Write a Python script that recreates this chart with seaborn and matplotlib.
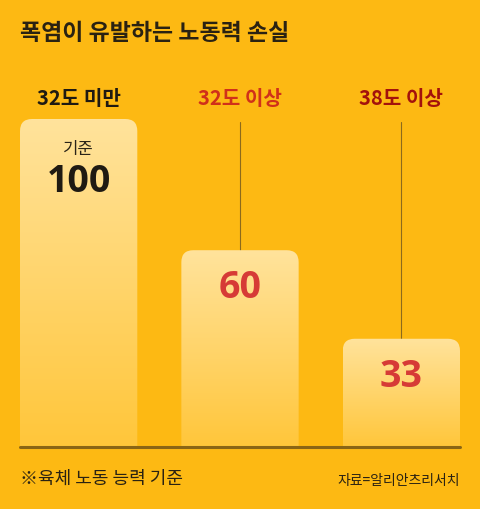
import numpy as np
import pandas as pd
import seaborn as sns
import matplotlib.pyplot as plt
from matplotlib.patches import FancyBboxPatch
from matplotlib.colors import LinearSegmentedColormap

# data
categories = ['32도 미만', '32도 이상', '38도 이상']
values = [100, 60, 33]
label_colors = ['#1f1a12', '#d0301a', '#a3120c']

df = pd.DataFrame({'temp': categories, 'labor': values})

sns.set_theme(style='white')
plt.rcParams['font.family'] = ['Noto Sans CJK KR', 'DejaVu Sans']

BG = '#fdb913'
W, H = 480, 510
fig = plt.figure(figsize=(W / 100, H / 100), dpi=100, facecolor=BG)

# axes placed so that baseline is at y=448px and bars span x 20..460px
bar_w = 0.727
left_px, right_px, base_px, top_px = 20, 460, 448, 120
ax = fig.add_axes([left_px / W, (H - base_px) / H,
                   (right_px - left_px) / W, (base_px - top_px) / H])
ax.set_facecolor(BG)

sns.barplot(data=df, x='temp', y='labor', width=bar_w, ax=ax, color='#ffd46a')
ax.set_xlim(-bar_w / 2, len(categories) - 1 + bar_w / 2)
ax.set_ylim(0, 100)
ax.axis('off')

# aspect of data units in pixels, for round corners
px_x = (right_px - left_px) / (ax.get_xlim()[1] - ax.get_xlim()[0])
px_y = (base_px - top_px) / 100
aspect = px_x / px_y
radius = 12 / px_x

grad = np.linspace(0, 1, 256).reshape(-1, 1)
cmap = LinearSegmentedColormap.from_list('bar', ['#ffc63a', '#ffe39c'])

for p in list(ax.patches):
    x0, w, h = p.get_x(), p.get_width(), p.get_height()
    p.set_visible(False)
    rb = FancyBboxPatch((x0, -20), w, h + 20,
                        boxstyle=f'round,pad=0,rounding_size={radius}',
                        mutation_aspect=aspect, facecolor='none',
                        edgecolor='none', transform=ax.transData)
    ax.add_patch(rb)
    im = ax.imshow(grad, extent=(x0, x0 + w, 0, h), origin='lower',
                   cmap=cmap, aspect='auto', zorder=2)
    im.set_clip_path(rb)

ax.set_xlim(-bar_w / 2, len(categories) - 1 + bar_w / 2)
ax.set_ylim(0, 100)

# baseline
ax.plot([-bar_w / 2, len(categories) - 1 + bar_w / 2], [0, 0],
        color='#8a6514', lw=2.2, clip_on=False, zorder=3)

# category labels and connector lines
label_y = 100 + 21 / px_y
for i, (cat, val, c) in enumerate(zip(categories, values, label_colors)):
    ax.text(i, label_y, cat, ha='center', va='center', fontsize=14.5,
            fontweight='bold', color=c, clip_on=False)
    if i > 0:
        ax.plot([i, i], [100 - 3 / px_y, val], color='#8c6a1c', lw=0.8,
                zorder=1, clip_on=False)

# values inside bars
ax.text(0, 100 - 30 / px_y, '기준', ha='center', va='center', fontsize=12,
        color='#2a2418', zorder=4)
ax.text(0, 100 - 62 / px_y, str(values[0]), ha='center', va='center',
        fontsize=27, fontweight='bold', color='#1f1a12',
        family=['Open Sans', 'DejaVu Sans'], zorder=4)
for i in (1, 2):
    ax.text(i, values[i] - 37 / px_y, str(values[i]), ha='center',
            va='center', fontsize=27, fontweight='bold', color='#d63b36',
            family=['Open Sans', 'DejaVu Sans'], zorder=4)

fig.text(20 / W, 1 - 33 / H, '폭염이 유발하는 노동력 손실', ha='left',
         va='center', fontsize=16.5, fontweight='bold', color='#2a2212')
fig.text(20 / W, 1 - 479 / H, '※육체 노동 능력 기준', ha='left',
         va='center', fontsize=13, color='#2a2212')
fig.text(460 / W, 1 - 481 / H, '자료=알리안츠리서치', ha='right',
         va='center', fontsize=10, color='#2a2212')

fig.savefig('out.png', dpi=100, facecolor=BG)
